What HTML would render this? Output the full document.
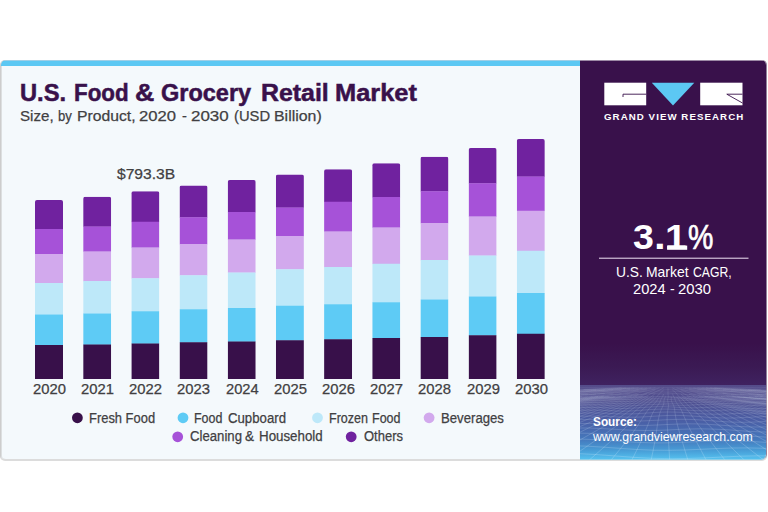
<!DOCTYPE html>
<html><head><meta charset="utf-8">
<style>
html,body{margin:0;padding:0;background:#fff;}
body{width:768px;height:512px;position:relative;overflow:hidden;font-family:"Liberation Sans",sans-serif;}
.card{position:absolute;left:0px;top:60px;width:767px;height:401px;border:1px solid #cdcdcd;border-bottom:2px solid #dcdcdc;border-radius:5px;background:#f4f9fc;box-sizing:border-box;box-shadow:inset 1px 0 0 rgba(190,190,190,0.45);}
.topbar{position:absolute;left:1px;top:60px;width:580px;height:6px;background:linear-gradient(to bottom,#9fcfe6 0,#9fcfe6 1px,#5cc8f3 1px,#5cc8f3 100%);border-top-left-radius:5px;}
.panel{position:absolute;left:580px;top:60px;width:186px;height:399px;border-radius:0 5px 5px 0;box-shadow:1px 0 0 rgba(57,17,75,0.4), 0 1px 0 rgba(85,196,240,0.6);background:linear-gradient(to bottom,#9d8aa6 0,#9d8aa6 1px,#39114b 1px,#39114b 71%,#3b1a54 77%,#3f2260 81.45%,#554c8a 81.5%,#4f4f90 85.5%,#4a5ea5 90.5%,#4578bc 95%,#489fd8 98%,#55c0ee 100%);}
.abs{position:absolute;}
.t{position:absolute;white-space:nowrap;transform-origin:0 0;}
</style></head><body>
<div class="card"></div>
<div class="topbar"></div>
<div class="panel"></div>
<svg class="abs" style="left:0;top:0" width="768" height="512" viewBox="0 0 768 512">
<defs><linearGradient id="mg" gradientUnits="userSpaceOnUse" x1="0" y1="385" x2="0" y2="460"><stop offset="0" stop-color="#e4f2ff" stop-opacity="0.10"/><stop offset="0.4" stop-color="#e4f2ff" stop-opacity="0.18"/><stop offset="1" stop-color="#e4f2ff" stop-opacity="0.28"/></linearGradient><clipPath id="c0"><path d="M35.00 379.0 V202.00 Q35.00 200.00 37.00 200.00 H61.00 Q63.00 200.00 63.00 202.00 V379.0 Z"/></clipPath><clipPath id="c1"><path d="M83.18 379.0 V198.75 Q83.18 196.75 85.18 196.75 H109.18 Q111.18 196.75 111.18 198.75 V379.0 Z"/></clipPath><clipPath id="c2"><path d="M131.36 379.0 V193.25 Q131.36 191.25 133.36 191.25 H157.36 Q159.36 191.25 159.36 193.25 V379.0 Z"/></clipPath><clipPath id="c3"><path d="M179.54 379.0 V187.50 Q179.54 185.50 181.54 185.50 H205.54 Q207.54 185.50 207.54 187.50 V379.0 Z"/></clipPath><clipPath id="c4"><path d="M227.72 379.0 V182.00 Q227.72 180.00 229.72 180.00 H253.72 Q255.72 180.00 255.72 182.00 V379.0 Z"/></clipPath><clipPath id="c5"><path d="M275.90 379.0 V176.50 Q275.90 174.50 277.90 174.50 H301.90 Q303.90 174.50 303.90 176.50 V379.0 Z"/></clipPath><clipPath id="c6"><path d="M324.08 379.0 V171.25 Q324.08 169.25 326.08 169.25 H350.08 Q352.08 169.25 352.08 171.25 V379.0 Z"/></clipPath><clipPath id="c7"><path d="M372.26 379.0 V165.25 Q372.26 163.25 374.26 163.25 H398.26 Q400.26 163.25 400.26 165.25 V379.0 Z"/></clipPath><clipPath id="c8"><path d="M420.44 379.0 V158.75 Q420.44 156.75 422.44 156.75 H446.44 Q448.44 156.75 448.44 158.75 V379.0 Z"/></clipPath><clipPath id="c9"><path d="M468.62 379.0 V150.00 Q468.62 148.00 470.62 148.00 H494.62 Q496.62 148.00 496.62 150.00 V379.0 Z"/></clipPath><clipPath id="c10"><path d="M516.80 379.0 V141.00 Q516.80 139.00 518.80 139.00 H542.80 Q544.80 139.00 544.80 141.00 V379.0 Z"/></clipPath></defs>
<g clip-path="url(#c0)"><rect x="35.00" y="200.00" width="28" height="29.30" fill="#70229f"/><rect x="35.00" y="229.00" width="28" height="25.30" fill="#a652d8"/><rect x="35.00" y="254.00" width="28" height="29.30" fill="#d2a9ed"/><rect x="35.00" y="283.00" width="28" height="31.80" fill="#bde8f9"/><rect x="35.00" y="314.50" width="28" height="30.80" fill="#5ecbf5"/><rect x="35.00" y="345.00" width="28" height="34.30" fill="#38104a"/></g><g clip-path="url(#c1)"><rect x="83.18" y="196.75" width="28" height="30.05" fill="#70229f"/><rect x="83.18" y="226.50" width="28" height="25.30" fill="#a652d8"/><rect x="83.18" y="251.50" width="28" height="29.80" fill="#d2a9ed"/><rect x="83.18" y="281.00" width="28" height="32.80" fill="#bde8f9"/><rect x="83.18" y="313.50" width="28" height="31.30" fill="#5ecbf5"/><rect x="83.18" y="344.50" width="28" height="34.80" fill="#38104a"/></g><g clip-path="url(#c2)"><rect x="131.36" y="191.25" width="28" height="30.80" fill="#70229f"/><rect x="131.36" y="221.75" width="28" height="26.05" fill="#a652d8"/><rect x="131.36" y="247.50" width="28" height="31.05" fill="#d2a9ed"/><rect x="131.36" y="278.25" width="28" height="33.30" fill="#bde8f9"/><rect x="131.36" y="311.25" width="28" height="32.55" fill="#5ecbf5"/><rect x="131.36" y="343.50" width="28" height="35.80" fill="#38104a"/></g><g clip-path="url(#c3)"><rect x="179.54" y="185.50" width="28" height="32.05" fill="#70229f"/><rect x="179.54" y="217.25" width="28" height="27.05" fill="#a652d8"/><rect x="179.54" y="244.00" width="28" height="31.55" fill="#d2a9ed"/><rect x="179.54" y="275.25" width="28" height="34.30" fill="#bde8f9"/><rect x="179.54" y="309.25" width="28" height="33.30" fill="#5ecbf5"/><rect x="179.54" y="342.25" width="28" height="37.05" fill="#38104a"/></g><g clip-path="url(#c4)"><rect x="227.72" y="180.00" width="28" height="32.30" fill="#70229f"/><rect x="227.72" y="212.00" width="28" height="27.80" fill="#a652d8"/><rect x="227.72" y="239.50" width="28" height="33.30" fill="#d2a9ed"/><rect x="227.72" y="272.50" width="28" height="35.80" fill="#bde8f9"/><rect x="227.72" y="308.00" width="28" height="33.80" fill="#5ecbf5"/><rect x="227.72" y="341.50" width="28" height="37.80" fill="#38104a"/></g><g clip-path="url(#c5)"><rect x="275.90" y="174.50" width="28" height="33.30" fill="#70229f"/><rect x="275.90" y="207.50" width="28" height="28.80" fill="#a652d8"/><rect x="275.90" y="236.00" width="28" height="33.55" fill="#d2a9ed"/><rect x="275.90" y="269.25" width="28" height="36.80" fill="#bde8f9"/><rect x="275.90" y="305.75" width="28" height="34.80" fill="#5ecbf5"/><rect x="275.90" y="340.25" width="28" height="39.05" fill="#38104a"/></g><g clip-path="url(#c6)"><rect x="324.08" y="169.25" width="28" height="32.80" fill="#70229f"/><rect x="324.08" y="201.75" width="28" height="30.05" fill="#a652d8"/><rect x="324.08" y="231.50" width="28" height="35.80" fill="#d2a9ed"/><rect x="324.08" y="267.00" width="28" height="37.55" fill="#bde8f9"/><rect x="324.08" y="304.25" width="28" height="35.30" fill="#5ecbf5"/><rect x="324.08" y="339.25" width="28" height="40.05" fill="#38104a"/></g><g clip-path="url(#c7)"><rect x="372.26" y="163.25" width="28" height="34.05" fill="#70229f"/><rect x="372.26" y="197.00" width="28" height="30.80" fill="#a652d8"/><rect x="372.26" y="227.50" width="28" height="36.55" fill="#d2a9ed"/><rect x="372.26" y="263.75" width="28" height="38.80" fill="#bde8f9"/><rect x="372.26" y="302.25" width="28" height="36.05" fill="#5ecbf5"/><rect x="372.26" y="338.00" width="28" height="41.30" fill="#38104a"/></g><g clip-path="url(#c8)"><rect x="420.44" y="156.75" width="28" height="34.80" fill="#70229f"/><rect x="420.44" y="191.25" width="28" height="32.05" fill="#a652d8"/><rect x="420.44" y="223.00" width="28" height="37.30" fill="#d2a9ed"/><rect x="420.44" y="260.00" width="28" height="39.80" fill="#bde8f9"/><rect x="420.44" y="299.50" width="28" height="37.80" fill="#5ecbf5"/><rect x="420.44" y="337.00" width="28" height="42.30" fill="#38104a"/></g><g clip-path="url(#c9)"><rect x="468.62" y="148.00" width="28" height="35.55" fill="#70229f"/><rect x="468.62" y="183.25" width="28" height="33.55" fill="#a652d8"/><rect x="468.62" y="216.50" width="28" height="39.30" fill="#d2a9ed"/><rect x="468.62" y="255.50" width="28" height="41.30" fill="#bde8f9"/><rect x="468.62" y="296.50" width="28" height="39.05" fill="#5ecbf5"/><rect x="468.62" y="335.25" width="28" height="44.05" fill="#38104a"/></g><g clip-path="url(#c10)"><rect x="516.80" y="139.00" width="28" height="37.80" fill="#70229f"/><rect x="516.80" y="176.50" width="28" height="34.55" fill="#a652d8"/><rect x="516.80" y="210.75" width="28" height="40.30" fill="#d2a9ed"/><rect x="516.80" y="250.75" width="28" height="42.55" fill="#bde8f9"/><rect x="516.80" y="293.00" width="28" height="41.05" fill="#5ecbf5"/><rect x="516.80" y="333.75" width="28" height="45.55" fill="#38104a"/></g>
<circle cx="77.4" cy="417.8" r="5.4" fill="#38104a"/><circle cx="183" cy="417.8" r="5.4" fill="#5ecbf5"/><circle cx="317.5" cy="417.8" r="5.4" fill="#bde8f9"/><circle cx="429.1" cy="417.8" r="5.4" fill="#d2a9ed"/><circle cx="177.7" cy="436.8" r="5.4" fill="#a652d8"/><circle cx="351.2" cy="436.8" r="5.4" fill="#70229f"/>
<clipPath id="pc"><path d="M580 385.3 H766.5 V455 Q766.5 459.5 762 459.5 H580 Z"/></clipPath>
<path clip-path="url(#pc)" d="M564.6 461.8 L586.1 462.8 L607.5 464.4 L628.7 466.0 L649.5 467.3 L670.0 468.0 L690.2 468.1 L710.2 467.4 L730.0 466.4 L749.8 465.4 L769.7 464.7 L789.9 464.6 M557.4 453.0 L576.5 453.5 L595.6 454.5 L614.5 455.9 L633.2 457.3 L651.5 458.3 L669.6 458.7 L687.4 458.5 L705.0 457.9 L722.6 457.0 L740.3 456.2 L758.1 455.8 L776.2 456.0 L794.6 456.6 M553.2 445.6 L570.2 445.6 L587.2 446.2 L604.0 447.2 L620.7 448.4 L637.1 449.5 L653.2 450.2 L669.1 450.3 L684.8 450.0 L700.5 449.3 L716.1 448.6 L731.9 448.0 L747.9 447.9 L764.2 448.3 L780.7 449.1 M551.3 439.3 L566.4 438.9 L581.5 439.1 L596.5 439.7 L611.4 440.7 L626.0 441.7 L640.4 442.5 L654.6 442.9 L668.6 442.8 L682.5 442.3 L696.4 441.7 L710.4 441.1 L724.6 440.8 L739.0 441.0 L753.6 441.6 L768.5 442.5 L783.5 443.4 M551.3 433.8 L564.7 433.2 L578.1 433.1 L591.5 433.4 L604.7 434.1 L617.8 435.0 L630.6 435.7 L643.2 436.2 L655.7 436.3 L668.1 436.0 L680.4 435.5 L692.9 434.9 L705.4 434.6 L718.2 434.6 L731.2 434.9 L744.4 435.7 L757.7 436.6 L771.2 437.4 L784.6 437.9 M552.8 429.1 L564.7 428.3 L576.7 428.0 L588.5 428.0 L600.3 428.5 L611.9 429.1 L623.3 429.8 L634.5 430.3 L645.6 430.5 L656.6 430.4 L667.6 430.0 L678.6 429.4 L689.8 429.0 L701.2 428.8 L712.7 429.1 L724.4 429.6 L736.3 430.4 L748.2 431.3 L760.2 431.9 L772.0 432.2 L783.7 432.0 L795.3 431.5 M555.4 424.8 L566.0 424.1 L576.7 423.6 L587.2 423.5 L597.7 423.7 L607.9 424.2 L618.1 424.8 L628.0 425.2 L637.9 425.4 L647.7 425.4 L657.4 425.0 L667.2 424.5 L677.2 424.1 L687.3 423.8 L697.6 423.9 L708.0 424.3 L718.6 425.0 L729.2 425.8 L739.8 426.5 L750.3 426.9 L760.7 427.0 L770.9 426.7 L781.0 426.1 L790.9 425.4 M559.0 420.9 L568.4 420.2 L577.8 419.7 L587.2 419.5 L596.4 419.6 L605.6 420.0 L614.5 420.4 L623.4 420.8 L632.1 421.0 L640.8 421.0 L649.5 420.6 L658.2 420.2 L667.1 419.7 L676.1 419.4 L685.3 419.3 L694.6 419.6 L704.0 420.2 L713.4 420.9 L722.8 421.6 L732.1 422.1 L741.4 422.3 L750.4 422.2 L759.4 421.8 L768.2 421.2 L776.9 420.7 L785.5 420.3 L794.2 420.2 M554.8 417.9 L563.2 417.3 L571.5 416.8 L579.9 416.3 L588.2 416.1 L596.4 416.1 L604.4 416.3 L612.4 416.7 L620.2 417.0 L627.9 417.2 L635.6 417.2 L643.4 416.9 L651.2 416.4 L659.1 415.9 L667.2 415.5 L675.4 415.4 L683.7 415.6 L692.0 416.0 L700.4 416.6 L708.8 417.3 L717.0 417.8 L725.2 418.0 L733.2 418.0 L741.1 417.7 L748.9 417.3 L756.6 416.9 L764.3 416.6 L772.1 416.5 L779.9 416.7 L787.9 417.0 L796.0 417.4 M553.0 414.6 L560.4 414.4 L567.8 414.0 L575.3 413.5 L582.7 413.1 L590.0 412.9 L597.2 413.0 L604.3 413.2 L611.3 413.5 L618.2 413.8 L625.0 413.9 L631.9 413.9 L638.8 413.6 L645.8 413.1 L652.9 412.6 L660.2 412.2 L667.5 412.0 L674.9 412.1 L682.4 412.4 L689.8 412.9 L697.2 413.5 L704.5 413.9 L711.7 414.2 L718.7 414.2 L725.7 414.0 L732.6 413.7 L739.4 413.4 L746.3 413.1 L753.2 413.1 L760.3 413.3 L767.4 413.6 L774.7 414.0 L782.1 414.4 L789.5 414.5 L796.9 414.4 M553.0 411.3 L559.5 411.3 L566.2 411.1 L572.8 410.8 L579.4 410.4 L585.9 410.2 L592.3 410.1 L598.7 410.1 L604.9 410.4 L611.1 410.7 L617.2 411.0 L623.3 411.1 L629.4 411.0 L635.6 410.7 L641.9 410.2 L648.3 409.7 L654.8 409.3 L661.4 409.1 L668.0 409.1 L674.6 409.4 L681.2 409.8 L687.7 410.2 L694.1 410.6 L700.4 410.8 L706.6 410.8 L712.7 410.6 L718.8 410.3 L724.9 410.1 L731.1 409.9 L737.3 409.9 L743.6 410.2 L750.1 410.5 L756.6 411.0 L763.2 411.3 L769.8 411.5 L776.4 411.4 L783.0 411.1 L789.5 410.7 L795.9 410.2 M554.5 408.0 L560.3 408.2 L566.2 408.2 L572.0 408.0 L577.9 407.8 L583.7 407.5 L589.4 407.4 L595.1 407.4 L600.6 407.5 L606.1 407.8 L611.5 408.1 L616.9 408.4 L622.4 408.5 L627.9 408.4 L633.5 408.1 L639.2 407.7 L645.0 407.3 L650.8 406.9 L656.7 406.7 L662.6 406.6 L668.4 406.8 L674.2 407.1 L679.9 407.5 L685.5 407.7 L691.0 407.8 L696.5 407.8 L701.9 407.6 L707.3 407.3 L712.8 407.1 L718.3 407.0 L723.9 407.1 L729.7 407.3 L735.5 407.7 L741.3 408.1 L747.2 408.5 L753.1 408.7 L758.9 408.6 L764.7 408.4 L770.3 408.0 L775.9 407.6 L781.4 407.3 L786.9 407.1 L792.3 407.1 M551.9 404.8 L557.0 405.1 L562.2 405.4 L567.5 405.5 L572.7 405.4 L577.9 405.2 L583.1 405.0 L588.1 404.8 L593.1 404.8 L598.0 404.8 L602.9 405.1 L607.7 405.4 L612.5 405.8 L617.4 406.0 L622.3 406.1 L627.3 406.0 L632.3 405.8 L637.5 405.4 L642.7 405.0 L647.9 404.7 L653.2 404.6 L658.3 404.6 L663.5 404.7 L668.5 405.0 L673.5 405.2 L678.4 405.3 L683.2 405.3 L688.0 405.2 L692.9 404.9 L697.7 404.6 L702.7 404.4 L707.7 404.4 L712.8 404.5 L717.9 404.8 L723.2 405.2 L728.4 405.6 L733.6 405.9 L738.8 406.0 L743.9 406.0 L748.9 405.8 L753.9 405.5 L758.7 405.2 L763.6 405.0 L768.4 404.9 L773.2 405.0 L778.1 405.2 L783.1 405.4 L788.1 405.6 L793.2 405.6 M551.4 402.4 L555.9 402.6 L560.5 402.9 L565.1 403.1 L569.8 403.2 L574.4 403.1 L579.0 403.0 L583.6 402.8 L588.1 402.6 L592.5 402.4 L596.8 402.4 L601.1 402.6 L605.4 402.9 L609.7 403.2 L614.0 403.5 L618.4 403.8 L622.9 403.8 L627.4 403.7 L632.0 403.5 L636.7 403.2 L641.3 403.0 L646.0 402.8 L650.5 402.7 L655.1 402.8 L659.5 403.0 L663.9 403.2 L668.2 403.3 L672.5 403.3 L676.8 403.2 L681.1 403.0 L685.4 402.7 L689.9 402.4 L694.4 402.2 L698.9 402.2 L703.5 402.3 L708.2 402.6 L712.8 402.9 L717.5 403.2 L722.0 403.5 L726.5 403.6 L731.0 403.5 L735.3 403.3 L739.6 403.1 L743.9 402.9 L748.2 402.8 L752.5 402.9 L756.9 403.1 L761.3 403.3 L765.8 403.5 L770.4 403.7 L775.1 403.7 L779.7 403.5 L784.4 403.2 L789.0 402.9 L793.5 402.5 M552.4 400.8 L556.4 400.8 L560.5 400.9 L564.6 401.1 L568.8 401.3 L572.9 401.4 L577.0 401.3 L581.0 401.2 L585.0 400.9 L589.0 400.7 L592.8 400.5 L596.7 400.4 L600.5 400.4 L604.3 400.6 L608.1 400.9 L612.0 401.2 L616.0 401.5 L620.0 401.6 L624.1 401.6 L628.2 401.5 L632.3 401.3 L636.5 401.1 L640.6 401.0 L644.6 401.0 L648.6 401.0 L652.5 401.2 L656.3 401.4 L660.1 401.6 L663.9 401.7 L667.8 401.6 L671.6 401.4 L675.5 401.1 L679.5 400.8 L683.5 400.5 L687.6 400.4 L691.8 400.4 L695.9 400.5 L700.0 400.8 L704.1 401.0 L708.1 401.2 L712.1 401.3 L716.0 401.3 L719.8 401.2 L723.6 401.0 L727.4 400.9 L731.2 400.8 L735.1 400.8 L739.0 401.0 L743.0 401.3 L747.1 401.5 L751.2 401.8 L755.3 401.9 L759.5 401.8 L763.6 401.6 L767.6 401.3 L771.6 401.0 L775.6 400.8 L779.5 400.6 L783.3 400.6 L787.1 400.7 L790.9 400.9 L794.7 401.1 M551.2 399.5 L554.7 399.3 L558.3 399.3 L561.9 399.3 L565.5 399.4 L569.2 399.6 L572.9 399.8 L576.5 399.9 L580.1 399.9 L583.7 399.7 L587.1 399.5 L590.6 399.2 L594.0 398.9 L597.4 398.8 L600.7 398.7 L604.2 398.8 L607.6 399.0 L611.2 399.3 L614.8 399.5 L618.4 399.6 L622.1 399.6 L625.7 399.5 L629.4 399.4 L633.0 399.2 L636.6 399.1 L640.1 399.1 L643.6 399.3 L647.0 399.5 L650.4 399.7 L653.8 399.9 L657.2 400.1 L660.6 400.1 L664.1 399.9 L667.6 399.7 L671.2 399.4 L674.9 399.2 L678.6 399.0 L682.2 399.0 L685.9 399.0 L689.5 399.2 L693.1 399.4 L696.6 399.5 L700.0 399.5 L703.4 399.5 L706.8 399.3 L710.2 399.1 L713.6 399.0 L717.1 398.9 L720.6 398.9 L724.1 399.0 L727.7 399.3 L731.4 399.6 L735.1 399.8 L738.7 400.0 L742.4 400.0 L746.0 399.9 L749.5 399.8 L753.0 399.5 L756.5 399.3 L759.9 399.2 L763.2 399.2 L766.6 399.3 L770.1 399.5 L773.5 399.6 L777.0 399.7 L780.6 399.7 L784.2 399.6 L787.9 399.4 M561.1 397.6 L564.3 397.6 L567.6 397.7 L570.9 397.9 L574.1 398.1 L577.3 398.3 L580.5 398.5 L583.6 398.5 L586.7 398.4 L589.7 398.2 L592.7 397.9 L595.7 397.7 L598.8 397.6 L601.8 397.5 L604.9 397.6 L608.1 397.7 L611.3 397.8 L614.6 398.0 L617.8 398.0 L621.1 398.0 L624.3 397.8 L627.5 397.7 L630.7 397.5 L633.8 397.4 L636.8 397.4 L639.9 397.5 L642.9 397.7 L645.9 398.0 L648.9 398.2 L652.0 398.4 L655.1 398.4 L658.3 398.4 L661.5 398.2 L664.8 398.0 L668.1 397.8 L671.3 397.7 L674.5 397.7 L677.7 397.8 L680.9 398.0 L684.0 398.1 L687.0 398.2 L690.0 398.2 L693.0 398.1 L696.0 397.9 L699.1 397.6 L702.2 397.4 L705.3 397.3 L708.5 397.3 L711.8 397.4 L715.0 397.6 L718.3 397.8 L721.5 398.0 L724.8 398.2 L727.9 398.2 L731.1 398.2 L734.1 398.0 L737.2 397.9 L740.2 397.8 L743.2 397.7 L746.2 397.8 L749.3 397.9 L752.4 398.1 L755.5 398.3 L758.7 398.4 L762.0 398.4 L765.2 398.3 L768.5 398.1 L771.8 397.8 L775.0 397.6 M573.4 396.2 L576.2 396.4 L579.1 396.6 L581.8 396.8 L584.6 397.0 L587.3 397.0 L589.9 396.9 L592.6 396.8 L595.3 396.6 L598.0 396.5 L600.8 396.4 L603.6 396.4 L606.4 396.5 L609.3 396.7 L612.2 396.8 L615.1 396.9 L618.0 396.8 L620.9 396.7 L623.7 396.5 L626.4 396.3 L629.2 396.1 L631.8 396.0 L634.5 396.0 L637.2 396.1 L639.9 396.3 L642.6 396.5 L645.4 396.7 L648.2 396.8 L651.1 396.8 L654.0 396.7 L656.9 396.6 L659.8 396.5 L662.7 396.4 L665.5 396.4 L668.3 396.5 L671.0 396.6 L673.7 396.8 L676.4 397.0 L679.1 397.0 L681.8 397.0 L684.5 396.9 L687.2 396.7 L690.0 396.5 L692.9 396.3 L695.7 396.2 L698.6 396.1 L701.5 396.2 L704.4 396.3 L707.3 396.5 L710.1 396.6 L712.9 396.6 L715.6 396.6 L718.3 396.5 L721.0 396.4 L723.7 396.3 L726.4 396.2 L729.1 396.2 L731.8 396.3 L734.6 396.5 L737.5 396.7 L740.4 396.9 L743.3 397.0 L746.2 397.1 L749.1 397.0 L751.9 396.8 L754.7 396.6 L757.5 396.5 L760.2 396.4 L762.9 396.3 M553.9 393.6 L558.0 393.7 L562.2 394.1 L566.6 394.3 L571.0 394.2 L575.3 394.0 L579.5 393.8 L583.6 393.9 L587.7 394.1 L591.8 394.1 L596.0 393.9 L600.4 393.6 L604.8 393.5 L609.1 393.8 L613.3 394.1 L617.4 394.1 L621.4 394.0 L625.6 393.8 L629.8 393.9 L634.2 394.1 L638.6 394.3 L642.9 394.2 L647.0 393.8 L651.1 393.6 L655.2 393.7 L659.3 393.9 L663.6 394.0 L668.0 393.9 L672.4 393.7 L676.7 393.7 L680.8 394.0 L684.9 394.3 L688.9 394.3 L693.1 394.1 L697.4 393.8 L701.8 393.8 L706.2 393.9 L710.4 394.1 L714.6 394.0 L718.6 393.7 L722.7 393.5 L726.9 393.7 L731.2 394.0 L735.6 394.2 L740.0 394.2 L744.2 394.0 L748.3 393.9 L752.4 394.0 L756.5 394.2 L760.7 394.2 L765.0 393.9 L769.4 393.6 L773.8 393.5 L778.0 393.7 L782.1 394.0 L786.1 394.1 L790.2 393.9 L794.5 393.8 M554.1 391.7 L560.2 392.0 L566.6 391.8 L573.2 392.0 L579.4 392.1 L585.5 391.7 L592.0 391.8 L598.5 391.9 L604.7 391.7 L610.8 392.1 L617.3 392.1 L623.8 391.8 L630.0 392.0 L636.2 391.8 L642.7 391.7 L649.2 392.1 L655.3 391.9 L661.5 391.9 L668.0 392.1 L674.5 391.7 L680.6 391.7 L686.8 392.0 L693.4 391.8 L699.8 392.0 L706.0 392.2 L712.2 391.8 L718.7 391.9 L725.2 391.9 L731.3 391.6 L737.5 392.0 L744.1 392.1 L750.5 391.8 L756.6 392.1 L762.9 391.8 L769.4 391.6 L775.8 392.0 L781.9 391.9 L788.2 391.9 L794.8 392.2 M554.1 389.9 L558.3 389.7 L562.4 389.9 L566.6 389.9 L571.0 389.8 L575.2 390.0 L579.2 389.9 L583.5 389.7 L587.9 389.9 L592.0 389.8 L596.1 389.9 L600.4 390.1 L604.8 389.8 L608.9 389.8 L613.0 389.9 L617.3 389.7 L621.7 389.9 L625.8 390.0 L629.9 389.8 L634.2 390.0 L638.6 389.9 L642.7 389.7 L646.8 389.9 L651.1 389.9 L655.4 389.8 L659.6 390.1 L663.7 389.9 L668.0 389.7 L672.3 389.9 L676.4 389.8 L680.6 389.8 L684.9 390.1 L689.2 389.9 L693.3 389.9 L697.4 389.9 L701.8 389.7 L706.1 389.8 L710.2 390.0 L714.3 389.8 L718.7 390.0 L723.0 389.9 L727.1 389.7 L731.2 389.9 L735.6 389.8 L739.9 389.8 L743.9 390.1 L748.1 389.9 L752.5 389.8 L756.8 389.9 L760.8 389.7 L765.0 389.8 L769.4 390.0 L773.6 389.9 L777.7 389.9 L781.9 390.0 L786.3 389.7 L790.5 389.8 L794.6 389.9 M551.9 387.8 L554.1 387.8 L556.1 387.9 L558.2 387.8 L560.3 387.8 L562.5 387.9 L564.5 387.8 L566.6 387.8 L568.8 387.9 L570.9 387.8 L573.0 387.8 L575.1 387.9 L577.2 387.7 L579.4 387.8 L581.4 387.9 L583.5 387.8 L585.7 387.9 L587.8 387.9 L589.9 387.8 L592.0 387.8 L594.1 387.8 L596.3 387.8 L598.3 387.9 L600.4 387.9 L602.6 387.8 L604.7 387.9 L606.7 387.8 L608.9 387.8 L611.0 387.9 L613.1 387.8 L615.2 387.9 L617.3 387.9 L619.5 387.7 L621.6 387.8 L623.6 387.9 L625.8 387.8 L627.9 387.9 L630.0 387.9 L632.1 387.8 L634.2 387.8 L636.4 387.8 L638.5 387.8 L640.5 387.9 L642.7 387.9 L644.8 387.8 L646.9 387.9 L648.9 387.8 L651.1 387.8 L653.3 387.9 L655.3 387.8 L657.4 387.9 L659.6 387.9 L661.7 387.8 L663.8 387.8 L665.8 387.8 L668.0 387.8 L670.2 387.9 L672.2 387.9 L674.3 387.8 L676.5 387.9 L678.6 387.8 L680.6 387.8 L682.7 387.9 L684.9 387.9 L687.0 387.8 L689.1 387.9 L691.2 387.8 L693.4 387.8 L695.5 387.9 L697.5 387.8 L699.6 387.9 L701.8 387.9 L703.9 387.8 L706.0 387.8 L708.1 387.8 L710.3 387.8 L712.4 387.9 L714.4 387.9 L716.5 387.8 L718.7 387.9 L720.8 387.8 L722.8 387.7 L725.0 387.9 L727.2 387.8 L729.2 387.8 L731.3 387.9 L733.4 387.8 L735.6 387.8 L737.7 387.9 L739.7 387.8 L741.9 387.9 L744.1 387.9 L746.1 387.8 L748.2 387.8 L750.3 387.8 L752.5 387.7 L754.6 387.9 L756.6 387.9 L758.8 387.8 L760.9 387.9 L763.0 387.8 L765.1 387.7 L767.2 387.9 L769.4 387.8 L771.4 387.8 L773.5 387.9 L775.7 387.8 L777.8 387.8 L779.9 387.9 L781.9 387.8 L784.1 387.8 L786.3 387.9 L788.3 387.8 L790.4 387.9 L792.6 387.8 L794.7 387.7 L796.8 387.9 M561.1 397.6 L573.4 396.2 M551.2 399.5 L564.3 397.6 L576.2 396.4 M554.7 399.3 L567.6 397.7 L579.1 396.6 M558.3 399.3 L570.9 397.9 L581.8 396.8 M561.9 399.3 L574.1 398.1 L584.6 397.0 M552.4 400.8 L565.5 399.4 L577.3 398.3 L587.3 397.0 M556.4 400.8 L569.2 399.6 L580.5 398.5 L589.9 396.9 M560.5 400.9 L572.9 399.8 L583.6 398.5 L592.6 396.8 M551.4 402.4 L564.6 401.1 L576.5 399.9 L586.7 398.4 L595.3 396.6 M555.9 402.6 L568.8 401.3 L580.1 399.9 L589.7 398.2 L598.0 396.5 M560.5 402.9 L572.9 401.4 L583.7 399.7 L592.7 397.9 L600.8 396.4 M551.9 404.8 L565.1 403.1 L577.0 401.3 L587.1 399.5 L595.7 397.7 L603.6 396.4 M557.0 405.1 L569.8 403.2 L581.0 401.2 L590.6 399.2 L598.8 397.6 L606.4 396.5 M562.2 405.4 L574.4 403.1 L585.0 400.9 L594.0 398.9 L601.8 397.5 L609.3 396.7 M554.5 408.0 L567.5 405.5 L579.0 403.0 L589.0 400.7 L597.4 398.8 L604.9 397.6 L612.2 396.8 M560.3 408.2 L572.7 405.4 L583.6 402.8 L592.8 400.5 L600.7 398.7 L608.1 397.7 L615.1 396.9 M553.0 411.3 L566.2 408.2 L577.9 405.2 L588.1 402.6 L596.7 400.4 L604.2 398.8 L611.3 397.8 L618.0 396.8 M559.5 411.3 L572.0 408.0 L583.1 405.0 L592.5 402.4 L600.5 400.4 L607.6 399.0 L614.6 398.0 L620.9 396.7 M553.0 414.6 L566.2 411.1 L577.9 407.8 L588.1 404.8 L596.8 402.4 L604.3 400.6 L611.2 399.3 L617.8 398.0 L623.7 396.5 M560.4 414.4 L572.8 410.8 L583.7 407.5 L593.1 404.8 L601.1 402.6 L608.1 400.9 L614.8 399.5 L621.1 398.0 L626.4 396.3 M554.8 417.9 L567.8 414.0 L579.4 410.4 L589.4 407.4 L598.0 404.8 L605.4 402.9 L612.0 401.2 L618.4 399.6 L624.3 397.8 L629.2 396.1 M563.2 417.3 L575.3 413.5 L585.9 410.2 L595.1 407.4 L602.9 405.1 L609.7 403.2 L616.0 401.5 L622.1 399.6 L627.5 397.7 L631.8 396.0 M559.0 420.9 L571.5 416.8 L582.7 413.1 L592.3 410.1 L600.6 407.5 L607.7 405.4 L614.0 403.5 L620.0 401.6 L625.7 399.5 L630.7 397.5 L634.5 396.0 M555.4 424.8 L568.4 420.2 L579.9 416.3 L590.0 412.9 L598.7 410.1 L606.1 407.8 L612.5 405.8 L618.4 403.8 L624.1 401.6 L629.4 399.4 L633.8 397.4 L637.2 396.1 M552.8 429.1 L566.0 424.1 L577.8 419.7 L588.2 416.1 L597.2 413.0 L604.9 410.4 L611.5 408.1 L617.4 406.0 L622.9 403.8 L628.2 401.5 L633.0 399.2 L636.8 397.4 L639.9 396.3 M551.3 433.8 L564.7 428.3 L576.7 423.6 L587.2 419.5 L596.4 416.1 L604.3 413.2 L611.1 410.7 L616.9 408.4 L622.3 406.1 L627.4 403.7 L632.3 401.3 L636.6 399.1 L639.9 397.5 L642.6 396.5 M551.3 439.3 L564.7 433.2 L576.7 428.0 L587.2 423.5 L596.4 419.6 L604.4 416.3 L611.3 413.5 L617.2 411.0 L622.4 408.5 L627.3 406.0 L632.0 403.5 L636.5 401.1 L640.1 399.1 L642.9 397.7 L645.4 396.7 M553.2 445.6 L566.4 438.9 L578.1 433.1 L588.5 428.0 L597.7 423.7 L605.6 420.0 L612.4 416.7 L618.2 413.8 L623.3 411.1 L627.9 408.4 L632.3 405.8 L636.7 403.2 L640.6 401.0 L643.6 399.3 L645.9 398.0 L648.2 396.8 M557.4 453.0 L570.2 445.6 L581.5 439.1 L591.5 433.4 L600.3 428.5 L607.9 424.2 L614.5 420.4 L620.2 417.0 L625.0 413.9 L629.4 411.0 L633.5 408.1 L637.5 405.4 L641.3 403.0 L644.6 401.0 L647.0 399.5 L648.9 398.2 L651.1 396.8 M564.6 461.8 L576.5 453.5 L587.2 446.2 L596.5 439.7 L604.7 434.1 L611.9 429.1 L618.1 424.8 L623.4 420.8 L627.9 417.2 L631.9 413.9 L635.6 410.7 L639.2 407.7 L642.7 405.0 L646.0 402.8 L648.6 401.0 L650.4 399.7 L652.0 398.4 L654.0 396.7 M586.1 462.8 L595.6 454.5 L604.0 447.2 L611.4 440.7 L617.8 435.0 L623.3 429.8 L628.0 425.2 L632.1 421.0 L635.6 417.2 L638.8 413.6 L641.9 410.2 L645.0 407.3 L647.9 404.7 L650.5 402.7 L652.5 401.2 L653.8 399.9 L655.1 398.4 L656.9 396.6 M607.5 464.4 L614.5 455.9 L620.7 448.4 L626.0 441.7 L630.6 435.7 L634.5 430.3 L637.9 425.4 L640.8 421.0 L643.4 416.9 L645.8 413.1 L648.3 409.7 L650.8 406.9 L653.2 404.6 L655.1 402.8 L656.3 401.4 L657.2 400.1 L658.3 398.4 L659.8 396.5 M628.7 466.0 L633.2 457.3 L637.1 449.5 L640.4 442.5 L643.2 436.2 L645.6 430.5 L647.7 425.4 L649.5 420.6 L651.2 416.4 L652.9 412.6 L654.8 409.3 L656.7 406.7 L658.3 404.6 L659.5 403.0 L660.1 401.6 L660.6 400.1 L661.5 398.2 L662.7 396.4 M649.5 467.3 L651.5 458.3 L653.2 450.2 L654.6 442.9 L655.7 436.3 L656.6 430.4 L657.4 425.0 L658.2 420.2 L659.1 415.9 L660.2 412.2 L661.4 409.1 L662.6 406.6 L663.5 404.7 L663.9 403.2 L663.9 401.7 L664.1 399.9 L664.8 398.0 L665.5 396.4 M670.0 468.0 L669.6 458.7 L669.1 450.3 L668.6 442.8 L668.1 436.0 L667.6 430.0 L667.2 424.5 L667.1 419.7 L667.2 415.5 L667.5 412.0 L668.0 409.1 L668.4 406.8 L668.5 405.0 L668.2 403.3 L667.8 401.6 L667.6 399.7 L668.1 397.8 L668.3 396.5 M690.2 468.1 L687.4 458.5 L684.8 450.0 L682.5 442.3 L680.4 435.5 L678.6 429.4 L677.2 424.1 L676.1 419.4 L675.4 415.4 L674.9 412.1 L674.6 409.4 L674.2 407.1 L673.5 405.2 L672.5 403.3 L671.6 401.4 L671.2 399.4 L671.3 397.7 L671.0 396.6 M710.2 467.4 L705.0 457.9 L700.5 449.3 L696.4 441.7 L692.9 434.9 L689.8 429.0 L687.3 423.8 L685.3 419.3 L683.7 415.6 L682.4 412.4 L681.2 409.8 L679.9 407.5 L678.4 405.3 L676.8 403.2 L675.5 401.1 L674.9 399.2 L674.5 397.7 L673.7 396.8 M730.0 466.4 L722.6 457.0 L716.1 448.6 L710.4 441.1 L705.4 434.6 L701.2 428.8 L697.6 423.9 L694.6 419.6 L692.0 416.0 L689.8 412.9 L687.7 410.2 L685.5 407.7 L683.2 405.3 L681.1 403.0 L679.5 400.8 L678.6 399.0 L677.7 397.8 L676.4 397.0 M749.8 465.4 L740.3 456.2 L731.9 448.0 L724.6 440.8 L718.2 434.6 L712.7 429.1 L708.0 424.3 L704.0 420.2 L700.4 416.6 L697.2 413.5 L694.1 410.6 L691.0 407.8 L688.0 405.2 L685.4 402.7 L683.5 400.5 L682.2 399.0 L680.9 398.0 L679.1 397.0 M769.7 464.7 L758.1 455.8 L747.9 447.9 L739.0 441.0 L731.2 434.9 L724.4 429.6 L718.6 425.0 L713.4 420.9 L708.8 417.3 L704.5 413.9 L700.4 410.8 L696.5 407.8 L692.9 404.9 L689.9 402.4 L687.6 400.4 L685.9 399.0 L684.0 398.1 L681.8 397.0 M789.9 464.6 L776.2 456.0 L764.2 448.3 L753.6 441.6 L744.4 435.7 L736.3 430.4 L729.2 425.8 L722.8 421.6 L717.0 417.8 L711.7 414.2 L706.6 410.8 L701.9 407.6 L697.7 404.6 L694.4 402.2 L691.8 400.4 L689.5 399.2 L687.0 398.2 L684.5 396.9 M794.6 456.6 L780.7 449.1 L768.5 442.5 L757.7 436.6 L748.2 431.3 L739.8 426.5 L732.1 422.1 L725.2 418.0 L718.7 414.2 L712.7 410.6 L707.3 407.3 L702.7 404.4 L698.9 402.2 L695.9 400.5 L693.1 399.4 L690.0 398.2 L687.2 396.7 M783.5 443.4 L771.2 437.4 L760.2 431.9 L750.3 426.9 L741.4 422.3 L733.2 418.0 L725.7 414.0 L718.8 410.3 L712.8 407.1 L707.7 404.4 L703.5 402.3 L700.0 400.8 L696.6 399.5 L693.0 398.1 L690.0 396.5 M784.6 437.9 L772.0 432.2 L760.7 427.0 L750.4 422.2 L741.1 417.7 L732.6 413.7 L724.9 410.1 L718.3 407.0 L712.8 404.5 L708.2 402.6 L704.1 401.0 L700.0 399.5 L696.0 397.9 L692.9 396.3 M783.7 432.0 L770.9 426.7 L759.4 421.8 L748.9 417.3 L739.4 413.4 L731.1 409.9 L723.9 407.1 L717.9 404.8 L712.8 402.9 L708.1 401.2 L703.4 399.5 L699.1 397.6 L695.7 396.2 M795.3 431.5 L781.0 426.1 L768.2 421.2 L756.6 416.9 L746.3 413.1 L737.3 409.9 L729.7 407.3 L723.2 405.2 L717.5 403.2 L712.1 401.3 L706.8 399.3 L702.2 397.4 L698.6 396.1 M790.9 425.4 L776.9 420.7 L764.3 416.6 L753.2 413.1 L743.6 410.2 L735.5 407.7 L728.4 405.6 L722.0 403.5 L716.0 401.3 L710.2 399.1 L705.3 397.3 L701.5 396.2 M785.5 420.3 L772.1 416.5 L760.3 413.3 L750.1 410.5 L741.3 408.1 L733.6 405.9 L726.5 403.6 L719.8 401.2 L713.6 399.0 L708.5 397.3 L704.4 396.3 M794.2 420.2 L779.9 416.7 L767.4 413.6 L756.6 411.0 L747.2 408.5 L738.8 406.0 L731.0 403.5 L723.6 401.0 L717.1 398.9 L711.8 397.4 L707.3 396.5 M787.9 417.0 L774.7 414.0 L763.2 411.3 L753.1 408.7 L743.9 406.0 L735.3 403.3 L727.4 400.9 L720.6 398.9 L715.0 397.6 L710.1 396.6 M796.0 417.4 L782.1 414.4 L769.8 411.5 L758.9 408.6 L748.9 405.8 L739.6 403.1 L731.2 400.8 L724.1 399.0 L718.3 397.8 L712.9 396.6 M789.5 414.5 L776.4 411.4 L764.7 408.4 L753.9 405.5 L743.9 402.9 L735.1 400.8 L727.7 399.3 L721.5 398.0 L715.6 396.6 M796.9 414.4 L783.0 411.1 L770.3 408.0 L758.7 405.2 L748.2 402.8 L739.0 401.0 L731.4 399.6 L724.8 398.2 L718.3 396.5 M789.5 410.7 L775.9 407.6 L763.6 405.0 L752.5 402.9 L743.0 401.3 L735.1 399.8 L727.9 398.2 L721.0 396.4 M795.9 410.2 L781.4 407.3 L768.4 404.9 L756.9 403.1 L747.1 401.5 L738.7 400.0 L731.1 398.2 L723.7 396.3 M786.9 407.1 L773.2 405.0 L761.3 403.3 L751.2 401.8 L742.4 400.0 L734.1 398.0 L726.4 396.2 M792.3 407.1 L778.1 405.2 L765.8 403.5 L755.3 401.9 L746.0 399.9 L737.2 397.9 L729.1 396.2 M783.1 405.4 L770.4 403.7 L759.5 401.8 L749.5 399.8 L740.2 397.8 L731.8 396.3 M788.1 405.6 L775.1 403.7 L763.6 401.6 L753.0 399.5 L743.2 397.7 L734.6 396.5 M793.2 405.6 L779.7 403.5 L767.6 401.3 L756.5 399.3 L746.2 397.8 L737.5 396.7 M784.4 403.2 L771.6 401.0 L759.9 399.2 L749.3 397.9 L740.4 396.9 M789.0 402.9 L775.6 400.8 L763.2 399.2 L752.4 398.1 L743.3 397.0 M793.5 402.5 L779.5 400.6 L766.6 399.3 L755.5 398.3 L746.2 397.1 M783.3 400.6 L770.1 399.5 L758.7 398.4 L749.1 397.0 M787.1 400.7 L773.5 399.6 L762.0 398.4 L751.9 396.8 M790.9 400.9 L777.0 399.7 L765.2 398.3 L754.7 396.6 M794.7 401.1 L780.6 399.7 L768.5 398.1 L757.5 396.5 M784.2 399.6 L771.8 397.8 L760.2 396.4 M787.9 399.4 L775.0 397.6 L762.9 396.3 M575.2 390.0 L621.6 387.8 M583.5 389.7 L625.8 387.8 M554.1 391.7 L592.0 389.8 L630.0 387.9 M560.2 392.0 L596.1 389.9 M566.6 391.8 L600.4 390.1 L634.2 387.8 M573.2 392.0 L604.8 389.8 M579.4 392.1 L608.9 389.8 L638.5 387.8 M558.0 393.7 L585.5 391.7 L613.0 389.9 M566.6 394.3 L592.0 391.8 L617.3 389.7 L642.7 387.9 M575.3 394.0 L598.5 391.9 L621.7 389.9 M550.7 396.6 L579.5 393.8 M556.2 396.6 L583.6 393.9 L604.7 391.7 L625.8 390.0 L646.9 387.9 M561.8 396.3 L587.7 394.1 M567.6 396.1 L591.8 394.1 L610.8 392.1 L629.9 389.8 M573.4 396.2 L596.0 393.9 M579.1 396.6 L600.4 393.6 L617.3 392.1 L634.2 390.0 L651.1 387.8 M584.6 397.0 L604.8 393.5 M589.9 396.9 L609.1 393.8 L623.8 391.8 L638.6 389.9 M595.3 396.6 L613.3 394.1 M600.8 396.4 L617.4 394.1 L630.0 392.0 L642.7 389.7 L655.3 387.8 M606.4 396.5 L621.4 394.0 M612.2 396.8 L625.6 393.8 L636.2 391.8 L646.8 389.9 M618.0 396.8 L629.8 393.9 M623.7 396.5 L634.2 394.1 L642.7 391.7 L651.1 389.9 L659.6 387.9 M629.2 396.1 L638.6 394.3 M634.5 396.0 L642.9 394.2 L649.2 392.1 L655.4 389.8 M639.9 396.3 L647.0 393.8 M645.4 396.7 L651.1 393.6 L655.3 391.9 L659.6 390.1 L663.8 387.8 M651.1 396.8 L655.2 393.7 M656.9 396.6 L659.3 393.9 L661.5 391.9 L663.7 389.9 M662.7 396.4 L663.6 394.0 M668.3 396.5 L668.0 393.9 L668.0 392.1 L668.0 389.7 L668.0 387.8 M673.7 396.8 L672.4 393.7 M679.1 397.0 L676.7 393.7 L674.5 391.7 L672.3 389.9 M684.5 396.9 L680.8 394.0 M690.0 396.5 L684.9 394.3 L680.6 391.7 L676.4 389.8 L672.2 387.9 M695.7 396.2 L688.9 394.3 M701.5 396.2 L693.1 394.1 L686.8 392.0 L680.6 389.8 M707.3 396.5 L697.4 393.8 M712.9 396.6 L701.8 393.8 L693.4 391.8 L684.9 390.1 L676.5 387.9 M718.3 396.5 L706.2 393.9 M723.7 396.3 L710.4 394.1 L699.8 392.0 L689.2 389.9 M729.1 396.2 L714.6 394.0 M734.6 396.5 L718.6 393.7 L706.0 392.2 L693.3 389.9 L680.6 387.8 M740.4 396.9 L722.7 393.5 M746.2 397.1 L726.9 393.7 L712.2 391.8 L697.4 389.9 M751.9 396.8 L731.2 394.0 M757.5 396.5 L735.6 394.2 L718.7 391.9 L701.8 389.7 L684.9 387.9 M762.9 396.3 L740.0 394.2 M768.3 396.5 L744.2 394.0 L725.2 391.9 L706.1 389.8 M773.7 396.7 L748.3 393.9 M779.3 396.6 L752.4 394.0 L731.3 391.6 L710.2 390.0 L689.1 387.9 M785.0 396.3 L756.5 394.2 M790.8 396.0 L760.7 394.2 L737.5 392.0 L714.3 389.8 M796.6 396.1 L765.0 393.9 M769.4 393.6 L744.1 392.1 L718.7 390.0 L693.4 387.8 M778.0 393.7 L750.5 391.8 L723.0 389.9 M786.1 394.1 L756.6 392.1 L727.1 389.7 L697.5 387.8 M794.5 393.8 L762.9 391.8 L731.2 389.9 M769.4 391.6 L735.6 389.8 L701.8 387.9 M775.8 392.0 L739.9 389.8 M781.9 391.9 L743.9 390.1 L706.0 387.8 M788.2 391.9 L748.1 389.9 M794.8 392.2 L752.5 389.8 L710.3 387.8 M760.8 389.7 L714.4 387.9" fill="none" stroke="url(#mg)" stroke-width="0.8"/>
<rect x="604.3" y="82.7" width="41.9" height="22.6" fill="#fff"/>
<path d="M646.2 94.2 H623 V97" stroke="#39114b" stroke-width="0.9" fill="none"/>
<path d="M651.8 82.7 H694.3 L673 105.4 Z" fill="#5cc8f3"/>
<rect x="700.2" y="82.7" width="42.3" height="22.6" fill="#fff"/>
<path d="M742.5 94.2 H726.8 L742.5 103" stroke="#39114b" stroke-width="0.9" fill="none"/>
<rect x="599" y="257.6" width="149.5" height="1.3" fill="#c7b4cf"/>
<rect x="667.1" y="245.6" width="20.1" height="4.2" fill="#fff"/>
</svg>
<div class="t" style="left:19.61px;top:82px;font-size:23.01px;line-height:23.01px;font-weight:bold;color:#39114b;transform:scaleX(1.031);-webkit-text-stroke:0.5px #39114b;">U.S.</div><div class="t" style="left:73.68px;top:82px;font-size:23.01px;line-height:23.01px;font-weight:bold;color:#39114b;transform:scaleX(0.973);-webkit-text-stroke:0.5px #39114b;">Food</div><div class="t" style="left:134.93px;top:82px;font-size:23.01px;line-height:23.01px;font-weight:bold;color:#39114b;transform:scaleX(1.1613);-webkit-text-stroke:0.5px #39114b;">&amp;</div><div class="t" style="left:161.03px;top:82px;font-size:23.01px;line-height:23.01px;font-weight:bold;color:#39114b;transform:scaleX(1.0217);-webkit-text-stroke:0.5px #39114b;">Grocery</div><div class="t" style="left:261.05px;top:82px;font-size:23.01px;line-height:23.01px;font-weight:bold;color:#39114b;transform:scaleX(1.0817);-webkit-text-stroke:0.5px #39114b;">Retail</div><div class="t" style="left:335.32px;top:82px;font-size:23.01px;line-height:23.01px;font-weight:bold;color:#39114b;transform:scaleX(1.1041);-webkit-text-stroke:0.5px #39114b;">Market</div><div class="t" style="left:19.91px;top:108px;font-size:15.41px;line-height:15.41px;font-weight:normal;color:#414042;transform:scaleX(0.9815);-webkit-text-stroke:0.25px #414042;">Size,</div><div class="t" style="left:58.15px;top:108px;font-size:15.41px;line-height:15.41px;font-weight:normal;color:#414042;transform:scaleX(0.8525);-webkit-text-stroke:0.25px #414042;">by</div><div class="t" style="left:76.92px;top:108px;font-size:15.41px;line-height:15.41px;font-weight:normal;color:#414042;transform:scaleX(1.02);-webkit-text-stroke:0.25px #414042;">Product,</div><div class="t" style="left:138.89px;top:108px;font-size:15.41px;line-height:15.41px;font-weight:normal;color:#414042;transform:scaleX(1.0788);-webkit-text-stroke:0.25px #414042;">2020</div><div class="t" style="left:181.53px;top:108px;font-size:15.41px;line-height:15.41px;font-weight:normal;color:#414042;transform:scaleX(0.95);-webkit-text-stroke:0.25px #414042;">-</div><div class="t" style="left:190.88px;top:108px;font-size:15.41px;line-height:15.41px;font-weight:normal;color:#414042;transform:scaleX(1.1);-webkit-text-stroke:0.25px #414042;">2030</div><div class="t" style="left:233.78px;top:108px;font-size:15.41px;line-height:15.41px;font-weight:normal;color:#414042;transform:scaleX(0.9572);-webkit-text-stroke:0.25px #414042;">(USD</div><div class="t" style="left:274.21px;top:108px;font-size:15.41px;line-height:15.41px;font-weight:normal;color:#414042;transform:scaleX(1.0328);-webkit-text-stroke:0.25px #414042;">Billion)</div><div class="t" style="left:117.25px;top:166px;font-size:15.41px;line-height:15.41px;font-weight:normal;color:#414042;transform:scaleX(1.0132);-webkit-text-stroke:0.25px #414042;">$793.3B</div><div class="t" style="left:88.9px;top:411px;font-size:14.39px;line-height:14.39px;font-weight:normal;color:#414042;transform:scaleX(0.899);-webkit-text-stroke:0.25px #414042;">Fresh Food</div><div class="t" style="left:194.43px;top:411px;font-size:14.39px;line-height:14.39px;font-weight:normal;color:#414042;transform:scaleX(0.8677);-webkit-text-stroke:0.25px #414042;">Food</div><div class="t" style="left:227.54px;top:411px;font-size:14.39px;line-height:14.39px;font-weight:normal;color:#414042;transform:scaleX(0.9182);-webkit-text-stroke:0.25px #414042;">Cupboard</div><div class="t" style="left:328.83px;top:411px;font-size:14.39px;line-height:14.39px;font-weight:normal;color:#414042;transform:scaleX(0.8721);-webkit-text-stroke:0.25px #414042;">Frozen</div><div class="t" style="left:372.43px;top:411px;font-size:14.39px;line-height:14.39px;font-weight:normal;color:#414042;transform:scaleX(0.871);-webkit-text-stroke:0.25px #414042;">Food</div><div class="t" style="left:440.78px;top:411px;font-size:14.39px;line-height:14.39px;font-weight:normal;color:#414042;transform:scaleX(0.916);-webkit-text-stroke:0.25px #414042;">Beverages</div><div class="t" style="left:189.55px;top:429px;font-size:14.53px;line-height:14.53px;font-weight:normal;color:#414042;transform:scaleX(0.9071);-webkit-text-stroke:0.25px #414042;">Cleaning</div><div class="t" style="left:245.33px;top:429px;font-size:14.53px;line-height:14.53px;font-weight:normal;color:#414042;transform:scaleX(0.9333);-webkit-text-stroke:0.25px #414042;">&amp;</div><div class="t" style="left:259.08px;top:429px;font-size:14.53px;line-height:14.53px;font-weight:normal;color:#414042;transform:scaleX(0.9185);-webkit-text-stroke:0.25px #414042;">Household</div><div class="t" style="left:363.75px;top:429px;font-size:14.53px;line-height:14.53px;font-weight:normal;color:#414042;transform:scaleX(0.8959);-webkit-text-stroke:0.25px #414042;">Others</div><div class="t" style="left:604.01px;top:114px;font-size:8.28px;line-height:8.28px;font-weight:bold;color:#ffffff;transform:scaleX(1.1737);letter-spacing:0.9px;">GRAND VIEW RESEARCH</div><div class="t" style="left:632.98px;top:220px;font-size:34.45px;line-height:34.45px;font-weight:bold;color:#ffffff;transform:scaleX(1.0899);">3</div><div class="t" style="left:653.75px;top:220px;font-size:34.45px;line-height:34.45px;font-weight:bold;color:#ffffff;transform:scaleX(1.22);">.</div><div class="t" style="left:664.55px;top:220px;font-size:34.45px;line-height:34.45px;font-weight:bold;color:#ffffff;transform:scaleX(1.1313);">1</div><div class="t" style="left:688.27px;top:220px;font-size:34.45px;line-height:34.45px;font-weight:normal;color:#ffffff;transform:scaleX(0.8278);-webkit-text-stroke:0.7px #ffffff;">%</div><div class="t" style="left:616.02px;top:265px;font-size:14.1px;line-height:14.1px;font-weight:normal;color:#ffffff;transform:scaleX(0.9782);">U.S.</div><div class="t" style="left:645.76px;top:265px;font-size:14.1px;line-height:14.1px;font-weight:normal;color:#ffffff;transform:scaleX(0.9892);">Market</div><div class="t" style="left:692.65px;top:265px;font-size:14.1px;line-height:14.1px;font-weight:normal;color:#ffffff;transform:scaleX(0.8655);">CAGR,</div><div class="t" style="left:632.94px;top:282px;font-size:14.53px;line-height:14.53px;font-weight:normal;color:#ffffff;transform:scaleX(1.0097);">2024</div><div class="t" style="left:670.07px;top:282px;font-size:14.53px;line-height:14.53px;font-weight:normal;color:#ffffff;transform:scaleX(0.9714);">-</div><div class="t" style="left:677.53px;top:282px;font-size:14.53px;line-height:14.53px;font-weight:normal;color:#ffffff;transform:scaleX(1.0226);">2030</div><div class="t" style="left:593.3px;top:415px;font-size:13.23px;line-height:13.23px;font-weight:bold;color:#ffffff;transform:scaleX(0.8947);">Source:</div><div class="t" style="left:593.3px;top:431px;font-size:12.5px;line-height:12.5px;font-weight:normal;color:#ffffff;transform:scaleX(0.983);">www.grandviewresearch.com</div><div class="t" style="left:32.89px;top:382px;font-size:14.53px;line-height:14.53px;font-weight:normal;color:#414042;transform:scaleX(1.0208);-webkit-text-stroke:0.25px #414042;">2020</div><div class="t" style="left:81.07px;top:382px;font-size:14.53px;line-height:14.53px;font-weight:normal;color:#414042;transform:scaleX(1.0208);-webkit-text-stroke:0.25px #414042;">2021</div><div class="t" style="left:129.25px;top:382px;font-size:14.53px;line-height:14.53px;font-weight:normal;color:#414042;transform:scaleX(1.0208);-webkit-text-stroke:0.25px #414042;">2022</div><div class="t" style="left:177.43px;top:382px;font-size:14.53px;line-height:14.53px;font-weight:normal;color:#414042;transform:scaleX(1.0208);-webkit-text-stroke:0.25px #414042;">2023</div><div class="t" style="left:225.61px;top:382px;font-size:14.53px;line-height:14.53px;font-weight:normal;color:#414042;transform:scaleX(1.0127);-webkit-text-stroke:0.25px #414042;">2024</div><div class="t" style="left:273.79px;top:382px;font-size:14.53px;line-height:14.53px;font-weight:normal;color:#414042;transform:scaleX(1.0208);-webkit-text-stroke:0.25px #414042;">2025</div><div class="t" style="left:321.97px;top:382px;font-size:14.53px;line-height:14.53px;font-weight:normal;color:#414042;transform:scaleX(1.0208);-webkit-text-stroke:0.25px #414042;">2026</div><div class="t" style="left:370.15px;top:382px;font-size:14.53px;line-height:14.53px;font-weight:normal;color:#414042;transform:scaleX(1.0208);-webkit-text-stroke:0.25px #414042;">2027</div><div class="t" style="left:418.33px;top:382px;font-size:14.53px;line-height:14.53px;font-weight:normal;color:#414042;transform:scaleX(1.0208);-webkit-text-stroke:0.25px #414042;">2028</div><div class="t" style="left:466.51px;top:382px;font-size:14.53px;line-height:14.53px;font-weight:normal;color:#414042;transform:scaleX(1.0208);-webkit-text-stroke:0.25px #414042;">2029</div><div class="t" style="left:514.69px;top:382px;font-size:14.53px;line-height:14.53px;font-weight:normal;color:#414042;transform:scaleX(1.0208);-webkit-text-stroke:0.25px #414042;">2030</div>
</body></html>
